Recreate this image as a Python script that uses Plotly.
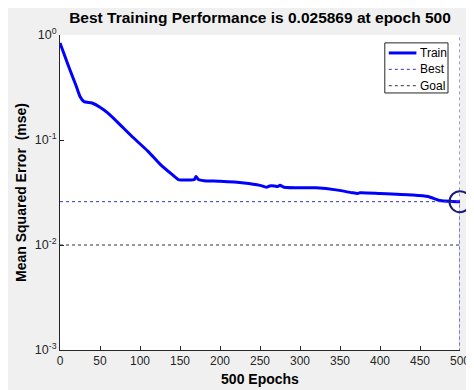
import math
import plotly.graph_objects as go

epochs = [0, 10, 20, 25, 30, 40, 50, 60, 75, 90, 110, 125, 140, 148, 160, 168, 170, 173, 180, 200, 230, 250, 258, 262, 268, 272, 275, 280, 320, 345, 365, 372, 375, 400, 440, 460, 475, 490, 500]
mse = [0.84, 0.52, 0.33, 0.26, 0.232, 0.225, 0.205, 0.18, 0.14, 0.108, 0.078, 0.059, 0.047, 0.042, 0.0415, 0.042, 0.045, 0.042, 0.041, 0.0405, 0.039, 0.037, 0.0355, 0.0365, 0.0365, 0.036, 0.037, 0.0355, 0.035, 0.0335, 0.0315, 0.031, 0.0315, 0.031, 0.030, 0.029, 0.0265, 0.026, 0.025869]
best_epoch = 500
best_perf = 0.025869
goal = 0.01
x_ticks = [0, 50, 100, 150, 200, 250, 300, 350, 400, 450, 500]
y_tickvals = [1e-3, 1e-2, 1e-1, 1]
y_ticktext = ["10<sup>-3</sup>", "10<sup>-2</sup>", "10<sup>-1</sup>", "10<sup>0</sup>"]
y_minor = [m * d for d in (1e-3, 1e-2, 1e-1) for m in range(2, 10)]
legend_names = ["Train", "Best", "Goal"]

TRAIN_C, BEST_C, GOAL_C = "#0000ff", "#3333cc", "#333333"

fig = go.Figure()
fig.add_trace(go.Scatter(x=epochs, y=mse, mode="lines", name="Train", showlegend=False,
                         line=dict(color=TRAIN_C, width=3, shape="spline", smoothing=0.6)))
fig.add_trace(go.Scatter(x=[0, best_epoch, best_epoch, best_epoch], y=[best_perf, best_perf, 1e-3, 1], mode="lines",
                         name="Best", showlegend=False, line=dict(color=BEST_C, width=1, dash="dot")))
fig.add_trace(go.Scatter(x=[0, best_epoch], y=[goal, goal], mode="lines", name="Goal", showlegend=False,
                         line=dict(color=GOAL_C, width=1, dash="dot")))
fig.add_trace(go.Scatter(x=[best_epoch], y=[best_perf], mode="markers", showlegend=False, cliponaxis=False,
                         marker=dict(symbol="circle-open", size=21, color="#1a1a7a", line=dict(width=2))))

# minor log ticks on the y axis (shape coords on a log axis are in log10 units)
for v in y_minor:
    lv = math.log10(v)
    fig.add_shape(type="line", xref="paper", yref="y", x0=0, x1=0.007, y0=lv, y1=lv,
                  line=dict(color="#404040", width=1), layer="above")

# manual legend box (paper coordinates)
bx0, bx1, by0, by1 = 0.812, 0.970, 0.816, 0.975
fig.add_shape(type="rect", xref="paper", yref="paper", x0=bx0, x1=bx1, y0=by0, y1=by1,
              fillcolor="#ffffff", line=dict(color="#262626", width=1), layer="above")
styles = [dict(color=TRAIN_C, width=3), dict(color=BEST_C, width=1, dash="dot"), dict(color=GOAL_C, width=1, dash="dot")]
for i, (nm, st) in enumerate(zip(legend_names, styles)):
    yy = by1 - 0.032 - i * 0.052
    fig.add_shape(type="line", xref="paper", yref="paper", x0=0.822, x1=0.891, y0=yy, y1=yy, line=st, layer="above")
    fig.add_annotation(xref="paper", yref="paper", x=0.895, y=yy, text=nm, showarrow=False,
                       xanchor="left", yanchor="middle", font=dict(size=12, color="#000000"))

fig.update_layout(
    width=474, height=390,
    margin=dict(l=52, r=17, t=27, b=48),
    paper_bgcolor="#f0f0f0", plot_bgcolor="#ffffff",
    font=dict(family="Liberation Sans, Arial, sans-serif", color="#262626", size=12),
    title=dict(text="<b>Best Training Performance is 0.025869 at epoch 500</b>", x=0.5, xref="paper",
               y=0.975, yanchor="middle", font=dict(size=15.5, color="#000000")),
    showlegend=False,
    xaxis=dict(range=[0, 500], tickvals=x_ticks, ticks="inside", ticklen=4, tickcolor="#262626",
               showline=True, linecolor="#262626", linewidth=1, showgrid=False, zeroline=False,
               title=dict(text="<b>500 Epochs</b>", font=dict(size=14, color="#000000"), standoff=6)),
    yaxis=dict(type="log", range=[-3, 0], tickmode="array", tickvals=y_tickvals, ticktext=y_ticktext,
               ticks="inside", ticklen=4, tickcolor="#262626", tickfont=dict(size=12.5),
               showline=True, linecolor="#262626", linewidth=1, showgrid=False, zeroline=False,
               title=dict(text="<b>Mean Squared Error  (mse)</b>", font=dict(size=14, color="#000000"), standoff=4)),
)
fig.write_html("out.html")
